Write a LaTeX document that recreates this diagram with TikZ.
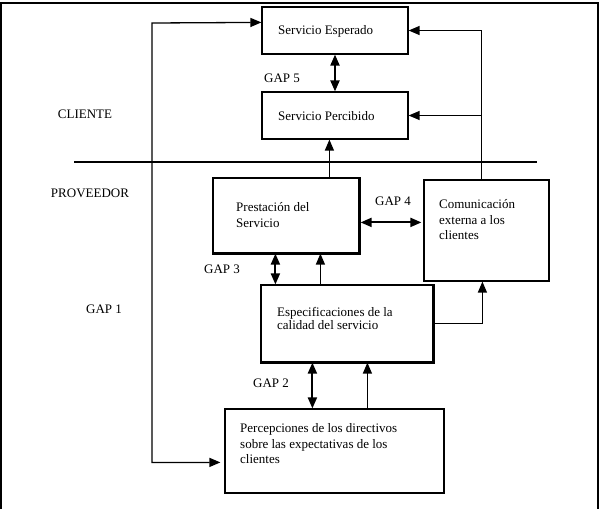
\documentclass[tikz,border=0pt]{standalone}
\usepackage{fontspec}
\setmainfont{Liberation Serif}
\usetikzlibrary{arrows.meta}

\begin{document}
\begin{tikzpicture}[x=1pt,y=-1pt,
		caja/.style={draw,line width=1.2pt,inner sep=0pt},
		txt/.style={anchor=west,inner sep=0pt,align=left,font=\fontsize{13}{15.5}\selectfont},
		lbl/.style={inner sep=0pt,font=\fontsize{13}{15.5}\selectfont},
		flecha/.style={-{Triangle[length=11pt,width=9pt]},line width=1.3pt},
		doble/.style={{Triangle[length=11pt,width=9pt]}-{Triangle[length=11pt,width=9pt]},line width=2pt}]
		\useasboundingbox (0,0) rectangle (599,509);
		% marco
		\draw[line width=1.5pt] (1,509) -- (1,3) -- (598,3) -- (598,509);
		\draw[line width=1.1pt] (74,162) -- (537,162);
		
		% cajas
		\node[caja,minimum width=146pt,minimum height=47pt] (esp) at (335,30.5) {};
		\node[caja,minimum width=146pt,minimum height=47pt] (perc) at (335,115.5) {};
		\node[caja,minimum width=146pt,minimum height=75pt] (pres) at (286,215.5) {};
		\node[caja,minimum width=125pt,minimum height=101pt] (com) at (486.5,230.5) {};
		\node[caja,minimum width=172pt,minimum height=77pt] (espec) at (347,323.5) {};
		\node[caja,minimum width=219pt,minimum height=84pt] (percep) at (334.5,451) {};
		\draw[line width=2pt] (pres.north east) -- (pres.south east) -- (pres.south west);
		\draw[line width=2pt] (espec.north east) -- (espec.south east) -- (espec.south west);
		
		\node[txt] (tEsp) at (278,31) {Servicio Esperado};
		\node[txt] (tPerc) at (278,116) {Servicio Percibido};
		\node[txt] (tPres) at (236,215) {Prestación del\\Servicio};
		\node[txt] (tCom) at (439,220) {Comunicación\\externa a los\\clientes};
		\node[txt] (tEspec) at (277,318.5) {Especificaciones de la\\[-2.5pt]calidad del servicio};
		\node[txt] (tPercep) at (240,444) {Percepciones de los directivos\\sobre las expectativas de los\\clientes};
		
		\node[lbl] (cliente) at (85,114) {CLIENTE};
		\node[lbl] (proveedor) at (90,193) {PROVEEDOR};
		\node[lbl] (gap1) at (104,309) {GAP 1};
		\node[lbl] (gap2) at (271,383) {GAP 2};
		\node[lbl] (gap3) at (222,269) {GAP 3};
		\node[lbl] (gap4) at (393,201) {GAP 4};
		\node[lbl] (gap5) at (282,78) {GAP 5};
		
		% conectores
		\draw[doble] (esp.south) -- (perc.north);
		\draw[flecha] ([xshift=117pt]pres.north west) coordinate (pp) -- (pp |- perc.south);
		\draw[flecha] ([xshift=58pt]com.north west) coordinate (cv) |- (esp.east);
		\draw[flecha] (cv |- perc.east) -- (perc.east);
		
		\coordinate (loopA) at (152,23);
		\draw[doble,line width=1.3pt,shorten >=4pt] ([yshift=-16pt]esp.north west) -- (loopA) |- ([yshift=-54pt]percep.north west);
		
		\draw[doble,shorten <=1pt,shorten >=2pt] ([yshift=-45pt]pres.north east) coordinate (g4) -- (g4 -| com.west);
		\draw[doble] ([xshift=63pt]pres.south west) coordinate (g3) -- (g3 |- espec.north);
		\draw[flecha] ([xshift=60pt]espec.north west) coordinate (e3) -- (e3 |- pres.south);
		\draw[flecha] (espec.east) -| ([xshift=59pt]com.south west);
		\draw[doble] ([xshift=52pt]espec.south west) coordinate (g2) -- (g2 |- percep.north);
		\draw[flecha] ([xshift=143pt]percep.north west) coordinate (p2) -- (p2 |- espec.south);
\end{tikzpicture}
\end{document}
